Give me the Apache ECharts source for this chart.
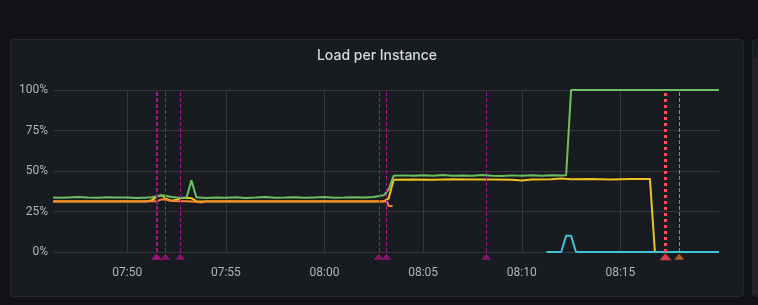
<!DOCTYPE html>
<html>
<head>
<meta charset="utf-8">
<script src="https://cdn.jsdelivr.net/npm/echarts@6/dist/echarts.min.js"></script>
<style>
html,body{margin:0;padding:0;background:#111217;}
#chart{width:758px;height:305px;}
</style>
</head>
<body>
<div id="chart"></div>
<script>
// ---- data ----
const chartTitle = "Load per Instance";
const xStart = "07:46:17";
const xEnd = "08:20:00";
const xTickLabels = ["07:50","07:55","08:00","08:05","08:10","08:15"];
const yTicks = [0, 25, 50, 75, 100];

const greenSeries = [
  ["07:46:00",33.8],["07:46:30",33.5],["07:47:00",33.7],["07:47:30",33.9],["07:48:00",33.6],
  ["07:48:30",33.5],["07:49:00",33.8],["07:49:30",33.6],["07:50:00",33.7],["07:50:30",33.4],
  ["07:51:00",33.6],["07:51:15",33.8],["07:51:30",34.4],["07:51:45",35.0],["07:52:00",34.6],
  ["07:52:15",34.0],["07:52:30",33.7],["07:53:00",33.5],["07:53:15",44.2],["07:53:30",33.8],
  ["07:54:00",33.4],["07:54:30",33.7],["07:55:00",33.5],["07:55:30",33.8],["07:56:00",33.4],
  ["07:56:30",33.6],["07:57:00",33.9],["07:57:30",33.5],["07:58:00",33.6],["07:58:30",33.8],
  ["07:59:00",33.5],["07:59:30",33.7],["08:00:00",33.9],["08:00:30",33.5],["08:01:00",33.6],
  ["08:01:30",33.8],["08:02:00",33.6],["08:02:30",34.0],["08:02:45",34.6],["08:03:00",35.0],
  ["08:03:15",38.5],["08:03:30",47.0],["08:04:00",47.3],["08:04:30",47.0],["08:05:00",47.4],
  ["08:05:30",47.1],["08:06:00",47.6],["08:06:30",47.0],["08:07:00",47.2],["08:07:30",47.0],
  ["08:08:00",47.5],["08:08:30",47.1],["08:09:00",46.9],["08:09:30",47.3],["08:10:00",47.0],
  ["08:10:30",47.4],["08:11:00",47.1],["08:11:30",47.3],["08:12:00",47.2],["08:12:15",47.4],
  ["08:12:30",100],["08:20:00",100]
];
const yellowSeries = [
  ["07:46:00",31.2],["07:48:00",31.2],["07:50:00",31.2],["07:51:00",31.2],["07:51:15",32.0],
  ["07:51:30",34.2],["07:51:45",35.0],["07:52:00",32.6],["07:52:15",31.6],["07:52:30",32.2],
  ["07:52:45",33.4],["07:53:00",33.5],["07:53:15",33.2],["07:53:30",31.4],["07:54:00",31.2],
  ["07:56:00",31.2],["07:58:00",31.2],["08:00:00",31.2],["08:02:00",31.2],["08:03:00",31.2],
  ["08:03:15",33.0],["08:03:30",44.6],["08:04:30",44.8],["08:05:30",44.6],["08:06:30",44.9],
  ["08:07:30",44.7],["08:08:30",44.8],["08:09:30",44.6],["08:10:00",44.2],["08:10:30",44.7],
  ["08:11:30",44.9],["08:12:00",45.3],["08:12:30",44.9],["08:13:30",45.0],["08:14:30",44.8],
  ["08:15:30",45.0],["08:16:30",45.0],["08:16:45",0],["08:20:00",0]
];
const orangeSeries = [
  ["07:46:00",31.3],["07:48:00",31.3],["07:50:00",31.3],["07:51:30",31.4],["07:51:45",32.5],
  ["07:52:00",32.3],["07:52:15",31.5],["07:53:00",31.3],["07:53:30",31.0],["07:53:45",30.6],
  ["07:54:00",31.3],["07:56:00",31.3],["08:00:00",31.3],["08:03:00",31.3],["08:03:10",31.0],
  ["08:03:15",28.5],["08:03:27",28.2]
];
const cyanSeries = [
  ["08:11:15",0],["08:12:00",0],["08:12:15",10],["08:12:30",10],["08:12:45",0],["08:20:00",0]
];
const magentaAnnotations = ["07:51:27","07:51:30","07:51:56","07:52:41","08:02:45","08:03:08","08:08:12"];
const redAnnotations = ["08:17:17"];
const orangeAnnotations = ["08:17:59"];
const markerLevel = -2.9;

// ---- helpers ----
function t(s){ const p = s.split(':').map(Number); return new Date(2024,0,15,p[0],p[1],p[2]||0).getTime(); }
function conv(arr){ return arr.map(d => [t(d[0]), d[1]]); }
function pad(n){ return (n<10?'0':'')+n; }
const xTickValues = xTickLabels.map(s => t(s));

const chart = echarts.init(document.getElementById('chart'), null, {renderer:'canvas'});

function lineSeries(name, data, color){
  return {
    name, type:'line', data: conv(data), showSymbol:false, symbol:'none',
    lineStyle:{color, width:2}, itemStyle:{color}, animation:false, z:3
  };
}
function annoLines(times, color, width, dash){
  return times.map(s => ({xAxis: t(s), lineStyle:{color, width, type: dash}}));
}
function markers(name, times, color, size){
  return {
    name, type:'scatter', data: times.map(s => [t(s), markerLevel]),
    symbol:'triangle', symbolSize:size, itemStyle:{color}, clip:false,
    animation:false, silent:true, z:5
  };
}

const option = {
  backgroundColor:'#111217',
  animation:false,
  graphic:[
    {type:'rect', z:-10, shape:{x:10.5, y:39.5, width:733, height:257, r:3},
      style:{fill:'#181b1f', stroke:'#24262b', lineWidth:1}},
    {type:'rect', z:-10, shape:{x:752.5, y:39.5, width:12, height:257, r:3},
      style:{fill:'#181b1f', stroke:'#24262b', lineWidth:1}},
    {type:'rect', z:-9, shape:{x:753, y:58, width:10, height:237, r:3},
      style:{fill:'#222429'}},
    {type:'text', z:10, x:377, y:56,
      style:{text: chartTitle, fill:'#d8d9e3', font:'500 14px Inter, Roboto, sans-serif',
        align:'center', verticalAlign:'middle'}}
  ],
  grid:{left:54, right:39, top:90, bottom:53, containLabel:false},
  xAxis:{
    type:'value', min:t(xStart), max:t(xEnd), scale:true,
    axisLine:{show:false},
    axisTick:{show:false, customValues: xTickValues},
    splitLine:{show:true, lineStyle:{color:'#35373d', width:1}},
    axisLabel:{color:'#b2b3bb', fontFamily:'Roboto', fontSize:12, margin:15,
      customValues: xTickValues,
      formatter: v => { const d = new Date(v); return pad(d.getHours())+':'+pad(d.getMinutes()); }}
  },
  yAxis:{
    type:'value', min:yTicks[0], max:yTicks[yTicks.length-1], interval:25,
    axisLine:{show:false}, axisTick:{show:false},
    splitLine:{show:true, lineStyle:{color:'#35373d', width:1}},
    axisLabel:{color:'#b2b3bb', fontFamily:'Roboto', fontSize:12, margin:6,
      formatter: v => v + '%'}
  },
  series:[
    lineSeries('yellow', yellowSeries, '#f0c21e'),
    lineSeries('orange', orangeSeries, '#f7892a'),
    lineSeries('green', greenSeries, '#6cc062'),
    lineSeries('cyan', cyanSeries, '#3dc4d6'),
    {
      name:'annotations', type:'line', data:[], animation:false, silent:true,
      markLine:{
        silent:true, symbol:['none','none'], label:{show:false}, animation:false,
        emphasis:{disabled:true},
        data:[].concat(
          annoLines(magentaAnnotations, '#a3168a', 1, [4,2]),
          annoLines(orangeAnnotations, '#d9782c', 1, [4,2]),
          annoLines(redAnnotations, '#ff4a5b', 3, [3,3])
        )
      }
    },
    markers('magentaMarkers', magentaAnnotations, '#a3137f', [10,6]),
    markers('redMarkers', redAnnotations, '#ff4a5b', [12,7]),
    markers('orangeMarkers', orangeAnnotations, '#d16f20', [10,6])
  ]
};
chart.setOption(option);
</script>
</body>
</html>
